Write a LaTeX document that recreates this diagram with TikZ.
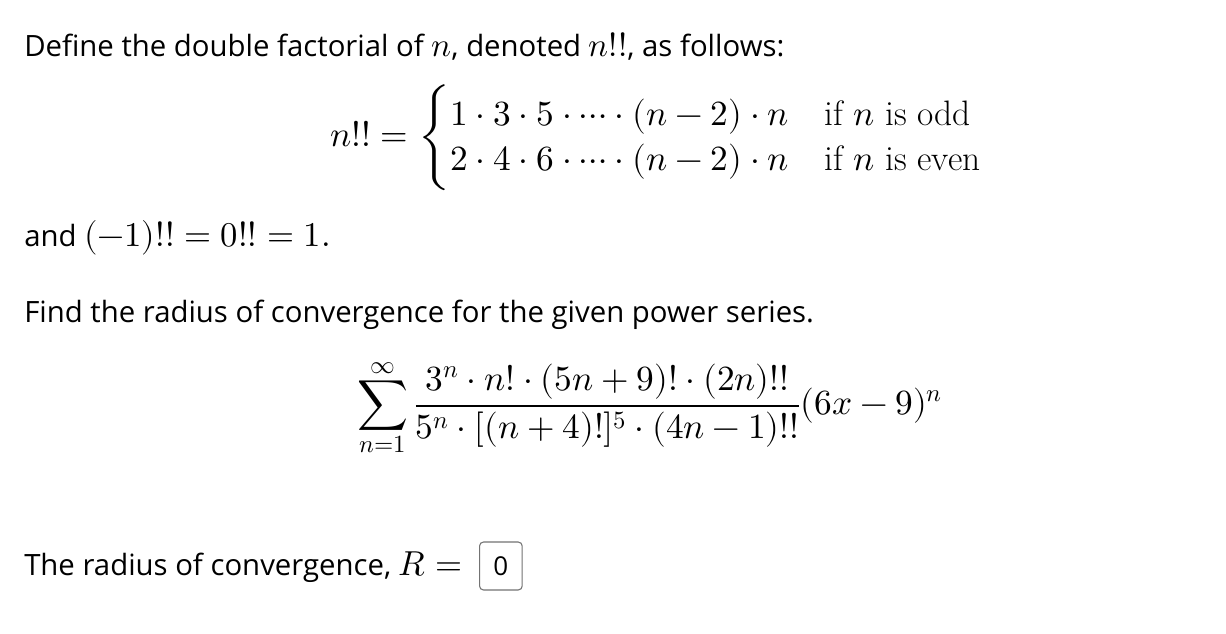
\documentclass[tikz,border=0pt]{standalone}
\usepackage{amsmath}
\usepackage{fontspec}
\setmainfont{Open Sans}
\usepackage{unicode-math}
\setmathfont{Latin Modern Math}
\tikzset{txt/.style={anchor=base west,inner sep=0pt,font=\fontsize{22}{26}\selectfont},
 mth/.style={inner sep=0pt,font=\fontsize{26.5}{32}\selectfont},
 ansbox/.style={draw=black!55,rounded corners=3pt,line width=0.8pt,minimum width=32pt,minimum height=36pt,inner sep=0pt,font=\fontsize{19.5}{24}\selectfont}}
\begin{document}
\begin{tikzpicture}[x=0.75pt,y=-0.75pt]
\useasboundingbox[fill=white] (0,0) rectangle (1226,634);
\node[txt] (t1) at (24,57) {Define the double factorial of {\fontsize{25}{29}\selectfont$n$}, denoted {\fontsize{25}{29}\selectfont$n!!$}, as follows:};
\node[mth,anchor=west] (def) at (330,138) {$n!!=\begin{cases}1\cdot3\cdot5\cdot\cdots\cdot(n-2)\cdot n & \text{\fontspec{Latin Modern Roman}if $n$ is odd}\\[-5pt] 2\cdot4\cdot6\cdot\cdots\cdot(n-2)\cdot n & \text{\fontspec{Latin Modern Roman}if $n$ is even}\end{cases}$};
\node[txt] (t2) at (24,247) {and {\fontsize{26}{31}\selectfont$(-1)!!=0!!=1.$}};
\node[txt] (t3) at (24,322) {Find the radius of convergence for the given power series.};
\node[mth,anchor=west] (ser) at (357,408) {$\displaystyle\sum_{n=1}^{\infty}\frac{3^n\cdot n!\cdot(5n+9)!\cdot(2n)!!}{5^n\cdot[(n+4)!]^5\cdot(4n-1)!!}(6x-9)^n$};
\node[txt] (t4) at (24,575) {The radius of convergence, {\fontsize{26}{31}\selectfont$R=$}};
\node[ansbox,anchor=west] (ans) at (479,566) {0};
\end{tikzpicture}
\end{document}
